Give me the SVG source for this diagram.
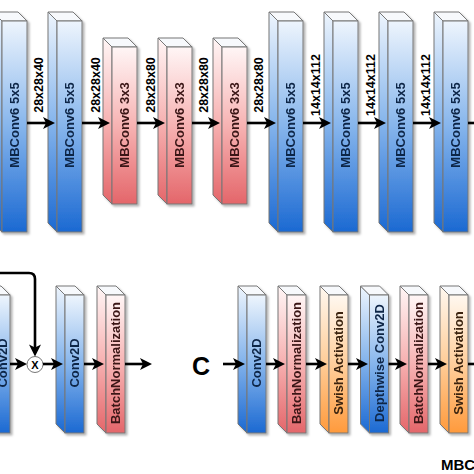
<svg xmlns="http://www.w3.org/2000/svg" width="474" height="474" viewBox="0 0 474 474">
<defs>
<linearGradient id="gB" x1="0" y1="0" x2="0" y2="1"><stop offset="0" stop-color="#eef5fd"/><stop offset="0.5" stop-color="#86b5ec"/><stop offset="1" stop-color="#1b69d2"/></linearGradient>
<linearGradient id="gP" x1="0" y1="0" x2="0" y2="1"><stop offset="0" stop-color="#fff6f6"/><stop offset="0.5" stop-color="#f7b3b3"/><stop offset="1" stop-color="#e4666a"/></linearGradient>
<linearGradient id="gO" x1="0" y1="0" x2="0" y2="1"><stop offset="0" stop-color="#fff8f0"/><stop offset="0.5" stop-color="#ffcf9c"/><stop offset="1" stop-color="#ff9a3c"/></linearGradient>
<filter id="sh" x="-30%" y="-10%" width="160%" height="120%"><feDropShadow dx="2" dy="2" stdDeviation="0.8" flood-color="#000" flood-opacity="0.3"/></filter>
<marker id="ah" markerUnits="userSpaceOnUse" markerWidth="12" markerHeight="12" refX="6" refY="6" orient="auto" overflow="visible"><path d="M0 0 L12 6 L0 12 L3 6 Z" fill="#000"/></marker>
</defs>
<style>
.box{filter:url(#sh)}
.box path,.box rect{stroke:#777;stroke-width:1}
.b path,.b rect{fill:url(#gB)}
.p path,.p rect{fill:url(#gP)}
.o path,.o rect{fill:url(#gO)}
.box path.t{fill:#f7f9fc}
.box text{font-family:"Liberation Sans",Arial,sans-serif;font-weight:bold;font-size:13px;text-anchor:middle}
.b text{fill:#0e2547}
.p text{fill:#3a1616}
.o text{fill:#3a2410}
.lbl{font-family:"Liberation Sans",Arial,sans-serif;font-weight:bold;font-size:12.5px;text-anchor:middle;fill:#000}
.conn path,.conn line{stroke:#000;stroke-width:2.6;fill:none;marker-end:url(#ah)}
</style>

<!-- top row -->
<g id="top1" class="box b" transform="translate(2,21)"><path d="M-9 -9 L0 0 V211 L-9 202 Z"/><path class="t" d="M-9 -9 H16 L25 0 H0 Z"/><rect width="25" height="211"/><text transform="translate(17.2,104) rotate(-90)">MBConv6 5x5</text></g>
<g id="top2" class="box b" transform="translate(57,21)"><path d="M-9 -9 L0 0 V211 L-9 202 Z"/><path class="t" d="M-9 -9 H16 L25 0 H0 Z"/><rect width="25" height="211"/><text transform="translate(17.2,104) rotate(-90)">MBConv6 5x5</text></g>
<g id="top3" class="box p" transform="translate(112,47)"><path d="M-9 -9 L0 0 V157 L-9 148 Z"/><path class="t" d="M-9 -9 H16 L25 0 H0 Z"/><rect width="25" height="157"/><text transform="translate(17.2,78) rotate(-90)">MBConv6 3x3</text></g>
<g id="top4" class="box p" transform="translate(167,47)"><path d="M-9 -9 L0 0 V157 L-9 148 Z"/><path class="t" d="M-9 -9 H16 L25 0 H0 Z"/><rect width="25" height="157"/><text transform="translate(17.2,78) rotate(-90)">MBConv6 3x3</text></g>
<g id="top5" class="box p" transform="translate(222,47)"><path d="M-9 -9 L0 0 V157 L-9 148 Z"/><path class="t" d="M-9 -9 H16 L25 0 H0 Z"/><rect width="25" height="157"/><text transform="translate(17.2,78) rotate(-90)">MBConv6 3x3</text></g>
<g id="top6" class="box b" transform="translate(278,21)"><path d="M-9 -9 L0 0 V211 L-9 202 Z"/><path class="t" d="M-9 -9 H16 L25 0 H0 Z"/><rect width="25" height="211"/><text transform="translate(17.2,104) rotate(-90)">MBConv6 5x5</text></g>
<g id="top7" class="box b" transform="translate(333,21)"><path d="M-9 -9 L0 0 V211 L-9 202 Z"/><path class="t" d="M-9 -9 H16 L25 0 H0 Z"/><rect width="25" height="211"/><text transform="translate(17.2,104) rotate(-90)">MBConv6 5x5</text></g>
<g id="top8" class="box b" transform="translate(388,21)"><path d="M-9 -9 L0 0 V211 L-9 202 Z"/><path class="t" d="M-9 -9 H16 L25 0 H0 Z"/><rect width="25" height="211"/><text transform="translate(17.2,104) rotate(-90)">MBConv6 5x5</text></g>
<g id="top9" class="box b" transform="translate(443,21)"><path d="M-9 -9 L0 0 V211 L-9 202 Z"/><path class="t" d="M-9 -9 H16 L25 0 H0 Z"/><rect width="25" height="211"/><text transform="translate(17.2,104) rotate(-90)">MBConv6 5x5</text></g>

<!-- bottom left -->
<g id="bl1" class="box b" transform="translate(-9,295)"><path d="M-9 -9 L0 0 V138 L-9 129 Z"/><path class="t" d="M-9 -9 H10 L19 0 H0 Z"/><rect width="19" height="138"/><text transform="translate(15.5,68) rotate(-90)">Conv2D</text></g>
<g id="bl2" class="box b" transform="translate(65,295)"><path d="M-9 -9 L0 0 V138 L-9 129 Z"/><path class="t" d="M-9 -9 H10 L19 0 H0 Z"/><rect width="19" height="138"/><text transform="translate(14.2,68) rotate(-90)">Conv2D</text></g>
<g id="bl3" class="box p" transform="translate(106,295)"><path d="M-9 -9 L0 0 V138 L-9 129 Z"/><path class="t" d="M-9 -9 H10 L19 0 H0 Z"/><rect width="19" height="138"/><text transform="translate(14.2,68) rotate(-90)">BatchNormalization</text></g>
<g id="mult"><circle cx="35" cy="364.5" r="8" fill="#fff" stroke="#777" stroke-width="1"/><text x="35" y="368.5" font-family="'Liberation Sans',Arial,sans-serif" font-weight="bold" font-size="11" text-anchor="middle">X</text></g>

<!-- section C -->
<text id="labelC" x="192" y="375" font-family="'Liberation Sans',Arial,sans-serif" font-weight="bold" font-size="25">C</text>
<g id="c1" class="box b" transform="translate(247,295)"><path d="M-9 -9 L0 0 V138 L-9 129 Z"/><path class="t" d="M-9 -9 H10 L19 0 H0 Z"/><rect width="19" height="138"/><text transform="translate(14.2,68) rotate(-90)">Conv2D</text></g>
<g id="c2" class="box p" transform="translate(287,295)"><path d="M-9 -9 L0 0 V138 L-9 129 Z"/><path class="t" d="M-9 -9 H10 L19 0 H0 Z"/><rect width="19" height="138"/><text transform="translate(14.2,68) rotate(-90)">BatchNormalization</text></g>
<g id="c3" class="box o" transform="translate(329,295)"><path d="M-9 -9 L0 0 V138 L-9 129 Z"/><path class="t" d="M-9 -9 H10 L19 0 H0 Z"/><rect width="19" height="138"/><text transform="translate(14.2,68) rotate(-90)">Swish Activation</text></g>
<g id="c4" class="box b" transform="translate(369.5,295)"><path d="M-9 -9 L0 0 V138 L-9 129 Z"/><path class="t" d="M-9 -9 H10 L19 0 H0 Z"/><rect width="19" height="138"/><text transform="translate(14.2,68) rotate(-90)">Depthwise Conv2D</text></g>
<g id="c5" class="box p" transform="translate(409,295)"><path d="M-9 -9 L0 0 V138 L-9 129 Z"/><path class="t" d="M-9 -9 H10 L19 0 H0 Z"/><rect width="19" height="138"/><text transform="translate(14.2,68) rotate(-90)">BatchNormalization</text></g>
<g id="c6" class="box o" transform="translate(449,295)"><path d="M-9 -9 L0 0 V138 L-9 129 Z"/><path class="t" d="M-9 -9 H10 L19 0 H0 Z"/><rect width="19" height="138"/><text transform="translate(14.2,68) rotate(-90)">Swish Activation</text></g>
<text id="caption" x="441" y="470" font-family="'Liberation Sans',Arial,sans-serif" font-weight="bold" font-size="15">MBC</text>

<!-- connectors -->
<g id="connectors" class="conn">
<line x1="27" y1="123" x2="49" y2="123"/>
<line x1="82" y1="123" x2="104" y2="123"/>
<line x1="137" y1="123" x2="159" y2="123"/>
<line x1="192" y1="123" x2="214" y2="123"/>
<line x1="247" y1="123" x2="270" y2="123"/>
<line x1="303" y1="123" x2="325" y2="123"/>
<line x1="358" y1="123" x2="380" y2="123"/>
<line x1="413" y1="123" x2="435" y2="123"/>
<line x1="468" y1="123" x2="484" y2="123"/>
<line x1="10" y1="364" x2="21" y2="364"/>
<line x1="43" y1="364" x2="57" y2="364"/>
<line x1="84" y1="364" x2="98" y2="364"/>
<line x1="125" y1="364" x2="146" y2="364"/>
<line x1="223" y1="364" x2="239" y2="364"/>
<line x1="266" y1="364" x2="279" y2="364"/>
<line x1="306" y1="364" x2="321" y2="364"/>
<line x1="348" y1="364" x2="362" y2="364"/>
<line x1="388.5" y1="364" x2="401" y2="364"/>
<line x1="428" y1="364" x2="441" y2="364"/>
<line x1="468" y1="364" x2="484" y2="364"/>
<path d="M-2 273 H29 Q35 273 35 279 V350.5"/>
</g>

<!-- dimension labels -->
<g id="labels">
<text class="lbl" transform="translate(42.5,85) rotate(-90)">28x28x40</text>
<text class="lbl" transform="translate(99.5,85) rotate(-90)">28x28x40</text>
<text class="lbl" transform="translate(154.5,85) rotate(-90)">28x28x80</text>
<text class="lbl" transform="translate(207.5,85) rotate(-90)">28x28x80</text>
<text class="lbl" transform="translate(262.5,85) rotate(-90)">28x28x80</text>
<text class="lbl" transform="translate(319.5,85) rotate(-90)">14x14x112</text>
<text class="lbl" transform="translate(374.5,85) rotate(-90)">14x14x112</text>
<text class="lbl" transform="translate(429.5,85) rotate(-90)">14x14x112</text>
</g>
</svg>
